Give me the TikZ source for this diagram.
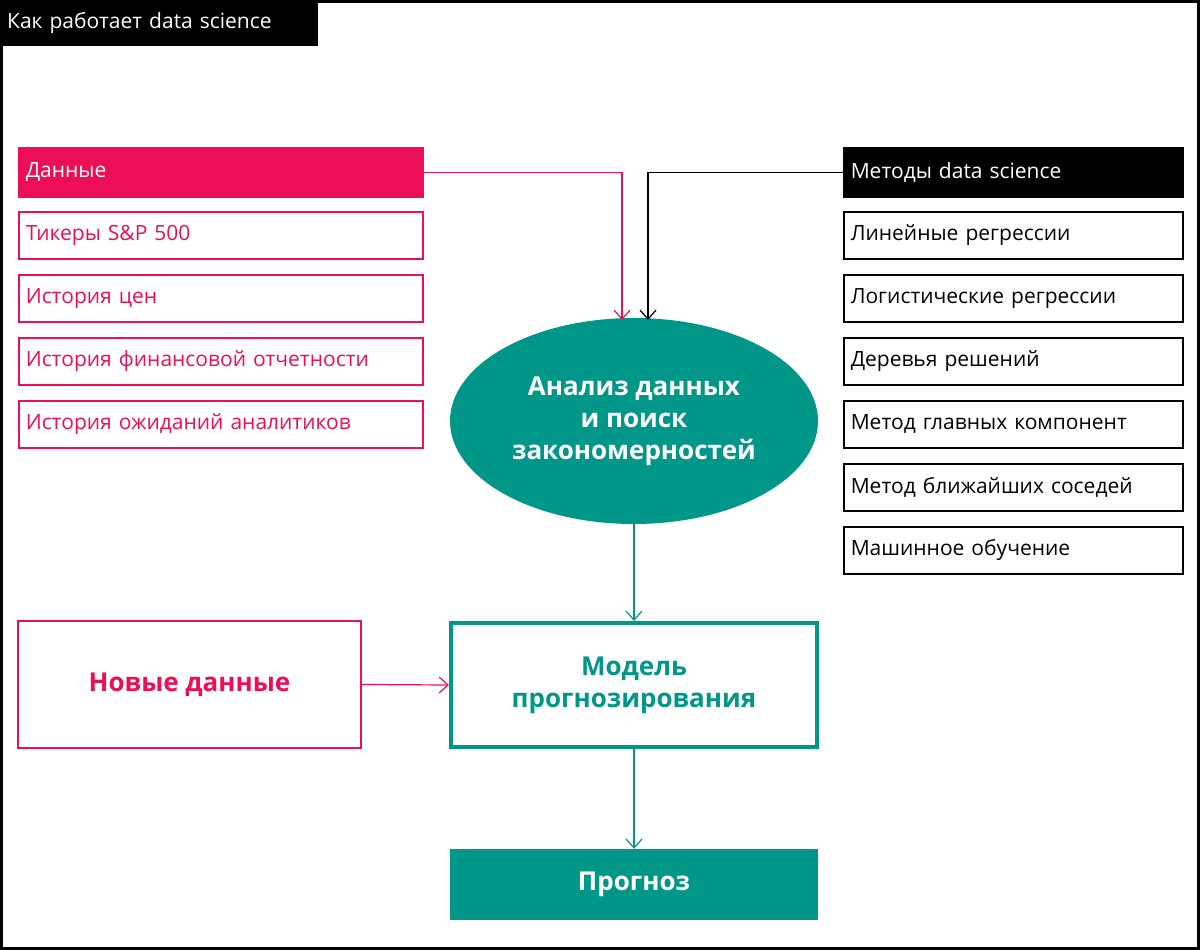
\documentclass[tikz,border=0pt]{standalone}
\usepackage{fontspec}
\setmainfont{Open Sans}
\usetikzlibrary{shapes.geometric,arrows.meta}
\definecolor{custcol_pink}{RGB}{236, 14, 86}
\definecolor{custcol_teal}{RGB}{0, 150, 136}
\tikzset{
  databox/.style={draw=custcol_pink, line width=1.5pt, text=custcol_pink, anchor=north west,
    minimum width=404pt, minimum height=47pt, text width=390pt, align=left, inner sep=7pt,
    font=\fontsize{21pt}{24pt}\selectfont},
  methodbox/.style={draw=black, line width=1.5pt, anchor=north west,
    minimum width=339pt, minimum height=47pt, text width=325pt, align=left, inner sep=7pt,
    font=\fontsize{21pt}{24pt}\selectfont},
  barb/.style={-{Straight Barb[length=9pt,width=16pt]}, line width=1.2pt},
}
\begin{document}
\begin{tikzpicture}[x=1pt,y=-1pt]
\useasboundingbox (0,0) rectangle (1200,950);
\draw [line width=2.5pt] (1.5,1.5) rectangle (1198.5,948.5);
% title
\node [fill=black, text=white, anchor=north west, minimum width=316pt, minimum height=46pt,
  text width=304pt, align=left, inner sep=7pt, font=\fontsize{21pt}{24pt}\selectfont] (title) at (0,0) {Как работает data science};
% data column
\node [databox, fill=custcol_pink, text=white, minimum height=49pt] (data) at (18,147) {Данные};
\node [databox] (d1) at (18,211) {Тикеры S\&P 500};
\node [databox] (d2) at (18,274) {История цен};
\node [databox] (d3) at (18,337) {История финансовой отчетности};
\node [databox] (d4) at (18,400) {История ожиданий аналитиков};
% methods column
\node [methodbox, fill=black, text=white, minimum height=49pt] (methods) at (843,147) {Методы data science};
\node [methodbox] (m1) at (843,211) {Линейные регрессии};
\node [methodbox] (m2) at (843,274) {Логистические регрессии};
\node [methodbox] (m3) at (843,337) {Деревья решений};
\node [methodbox] (m4) at (843,400) {Метод главных компонент};
\node [methodbox] (m5) at (843,463) {Метод ближайших соседей};
\node [methodbox] (m6) at (843,526) {Машинное обучение};
% centre
\node [ellipse, fill=custcol_teal, text=white, minimum width=368pt, minimum height=206pt, align=center,
  font=\fontsize{26pt}{32pt}\selectfont\bfseries] (analysis) at (634,421) {Анализ данных\\и поиск\\закономерностей};
\node [draw=custcol_teal, line width=4pt, text=custcol_teal, minimum width=366pt, minimum height=124pt, align=center,
  font=\fontsize{26pt}{32pt}\selectfont\bfseries] (model) at (634,685) {Модель\\прогнозирования};
\node [draw=custcol_pink, line width=1.5pt, text=custcol_pink, minimum width=343pt, minimum height=127pt,
  font=\fontsize{26pt}{32pt}\selectfont\bfseries] (newdata) at (189.5,684.5) {Новые данные};
\node [fill=custcol_teal, text=white, minimum width=368pt, minimum height=71pt,
  font=\fontsize{26pt}{32pt}\selectfont\bfseries] (forecast) at (634,884.5) {Прогноз};
% connectors
\coordinate (inpink) at (622,320);
\coordinate (inblack) at (648,320);
\draw [barb, custcol_pink] (data.east) -| (inpink);
\draw [barb, black] (methods.west) -| (inblack);
\draw [barb, custcol_teal] (analysis.south) -- (model.north);
\draw [barb, custcol_pink] (newdata.east) -- (model.west);
\draw [barb, custcol_teal] (model.south) -- (forecast.north);
\end{tikzpicture}
\end{document}
